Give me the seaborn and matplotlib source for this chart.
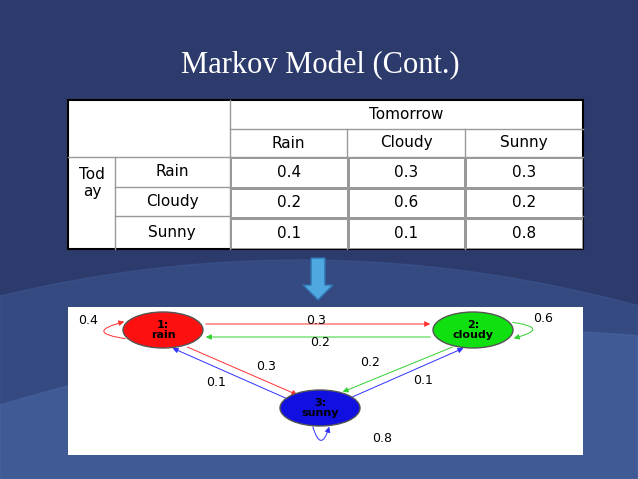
import matplotlib
matplotlib.use("Agg")
import matplotlib.pyplot as plt
import seaborn as sns
import numpy as np
import pandas as pd
from matplotlib.patches import Ellipse, FancyArrowPatch, Rectangle, Polygon

states = ["Rain", "Cloudy", "Sunny"]
probs = [[0.4, 0.3, 0.3],
         [0.2, 0.6, 0.2],
         [0.1, 0.1, 0.8]]
node_labels = ["1:\nrain", "2:\ncloudy", "3:\nsunny"]
node_colors = ["#ff1010", "#10e010", "#1010e0"]

W, H = 638, 479
fig = plt.figure(figsize=(W/100, H/100), dpi=100)
fig.patch.set_facecolor("#2d3a6c")
bg = fig.add_axes([0, 0, 1, 1])
bg.set_xlim(0, W); bg.set_ylim(H, 0); bg.axis("off")
xs = np.linspace(0, W, 100)
bg.fill_between(xs, 260 + 0.0004*(xs-300)**2, H, color="#3c5590", alpha=0.6, zorder=0)
bg.fill_between(xs, 330 + 0.0003*(xs-500)**2, H, color="#4a6aa8", alpha=0.5, zorder=0)
bg.text(320, 66, "Markov Model (Cont.)", color="white", fontsize=22,
        family="Liberation Serif", ha="center", va="center")

x0, x1, c1, c2, c3 = 68, 583, 230, 347, 465
y0, y1, y2, y3, y4, y5 = 100, 129, 157, 187, 216, 249
bg.add_patch(Rectangle((x0, y0), x1-x0, y5-y0, facecolor="white", edgecolor="black", lw=1.5, zorder=1))
lc = "#999999"
bg.plot([c1, c1], [y0, y5], color=lc, lw=1, zorder=2)
for x in (c2, c3):
    bg.plot([x, x], [y1, y5], color=lc, lw=1, zorder=2)
bg.plot([c1, x1], [y1, y1], color=lc, lw=1, zorder=2)
bg.plot([x0, x1], [y2, y2], color=lc, lw=1, zorder=2)
for y in (y3, y4):
    bg.plot([115, x1], [y, y], color=lc, lw=1, zorder=2)
bg.plot([115, 115], [y2, y5], color=lc, lw=1, zorder=2)
fs = 11
bg.text((c1+x1)/2, (y0+y1)/2, "Tomorrow", ha="center", va="center", fontsize=fs, zorder=3)
for i, s in enumerate(states):
    cx = [(c1+c2)/2, (c2+c3)/2, (c3+x1)/2][i]
    bg.text(cx, (y1+y2)/2, s, ha="center", va="center", fontsize=fs, zorder=3)
    cy = [(y2+y3)/2, (y3+y4)/2, (y4+y5)/2][i]
    bg.text(172, cy, s, ha="center", va="center", fontsize=fs, zorder=3)
bg.text(92, 183, "Tod\nay", ha="center", va="center", fontsize=fs, zorder=3, linespacing=1.1)

hax = fig.add_axes([c1/W, 1-y5/H, (x1-c1)/W, (y5-y2)/H])
df = pd.DataFrame(probs, index=states, columns=states)
sns.heatmap(df, ax=hax, annot=True, fmt=".1f", cbar=False, cmap=["white"],
            linewidths=1, linecolor=lc, annot_kws={"fontsize": fs, "color": "black"})
hax.set_xticks([]); hax.set_yticks([]); hax.set_xlabel(""); hax.set_ylabel("")

bg.add_patch(Polygon([[311, 258], [325, 258], [325, 285], [333, 285], [318, 300], [303, 285], [311, 285]],
                     facecolor="#4fa8e0", edgecolor="#3070b0", zorder=3))

bg.add_patch(Rectangle((x0, 307), x1-x0, 148, facecolor="white", edgecolor="none", zorder=1))
pos = [(163, 330), (473, 330), (320, 408)]
for (x, y), lab, c in zip(pos, node_labels, node_colors):
    bg.add_patch(Ellipse((x, y), 80, 36, facecolor=c, edgecolor="#555555", zorder=4))
    bg.text(x, y, lab, ha="center", va="center", fontsize=8, weight="bold", zorder=5, linespacing=0.9)

def arr(p, q, c, rad=0.0):
    bg.add_patch(FancyArrowPatch(p, q, arrowstyle="-|>", mutation_scale=8, color=c, lw=0.7,
                                 connectionstyle=f"arc3,rad={rad}", zorder=3))
arr((203, 324), (433, 324), "#ff3030")
arr((433, 337), (203, 337), "#30d030")
arr((185, 346), (300, 396), "#ff3030")
arr((290, 400), (170, 347), "#3030ff")
arr((455, 346), (340, 393), "#30d030")
arr((350, 398), (466, 347), "#3030ff")
arr((128, 339), (127, 321), "#ff3030", rad=-2.6)
arr((510, 322), (511, 339), "#30d030", rad=-2.6)
arr((312, 424), (330, 424), "#3030ff", rad=1.8)
lab = dict(fontsize=9, ha="center", va="center", zorder=5)
bg.text(88, 321, f"{probs[0][0]}", **lab)
bg.text(316, 320, f"{probs[0][1]}", **lab)
bg.text(320, 343, f"{probs[1][0]}", **lab)
bg.text(543, 319, f"{probs[1][1]}", **lab)
bg.text(266, 366, f"{probs[0][2]}", **lab)
bg.text(216, 382, f"{probs[2][0]}", **lab)
bg.text(370, 363, f"{probs[1][2]}", **lab)
bg.text(423, 380, f"{probs[2][1]}", **lab)
bg.text(382, 438, f"{probs[2][2]}", **lab)

fig.savefig("out.png", dpi=100, facecolor=fig.get_facecolor())
